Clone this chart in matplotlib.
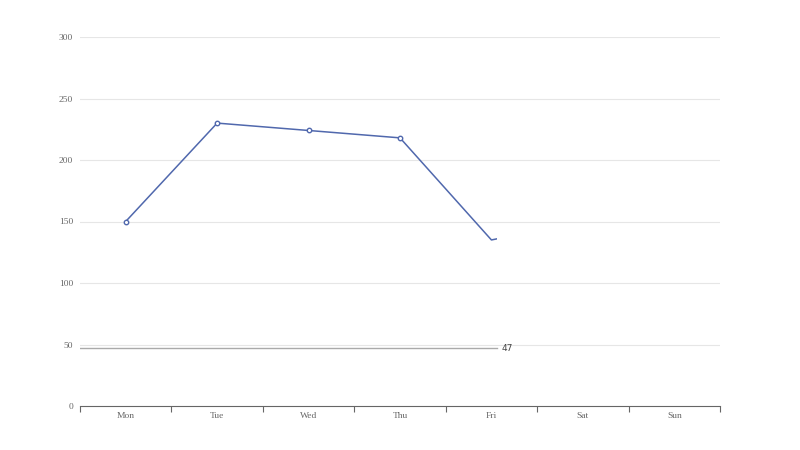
import matplotlib
matplotlib.use("Agg")
import matplotlib.pyplot as plt
import numpy as np

categories = ["Mon", "Tue", "Wed", "Thu", "Fri", "Sat", "Sun"]
values = [150, 230, 224, 218, 135, 150]   # Sat estimated from visible partial segment
visible_upto = 4.066                       # line drawn (animated) up to just past Fri
mark_value = 47
y_ticks = [0, 50, 100, 150, 200, 250, 300]

fig = plt.figure(figsize=(8, 4.5), dpi=100)
ax = fig.add_axes([0.1, 1 - 406 / 450, 0.8, (406 - 37) / 450])

xs = np.arange(len(values))
line_color = "#5068ad"
clip = plt.Rectangle((-0.5, -10), visible_upto + 0.5, 400, transform=ax.transData)
ln, = ax.plot(xs, values, color=line_color, lw=1.1, zorder=3)
ln.set_clip_path(clip)
ax.plot(xs[:4], values[:4], 'o', ms=3.2, mfc='white', mec=line_color, mew=1.0, zorder=4)

ax.plot([-0.5, visible_upto], [mark_value, mark_value], color="#aaaaaa", lw=1, zorder=2)
ax.text(visible_upto + 0.04, mark_value, str(mark_value), fontsize=6.5, color="#444444",
        va='center', ha='left', family='DejaVu Sans')

ax.set_xlim(-0.5, 6.5)
ax.set_ylim(0, 300)
ax.set_yticks(y_ticks)
ax.set_yticklabels([str(t) for t in y_ticks], fontsize=6.8, color="#666666", family="Liberation Serif")
ax.set_xticks(np.arange(len(categories)))
ax.set_xticklabels(categories, fontsize=6.8, color="#666666", family="Liberation Serif")
ax.set_xticks(np.arange(-0.5, 7, 1), minor=True)
ax.tick_params(axis='x', which='major', length=0, pad=4)
ax.tick_params(axis='x', which='minor', length=4, color="#666666", width=0.8)
ax.tick_params(axis='y', length=0, pad=5)
for t in y_ticks[1:]:
    ax.axhline(t, color="#e6e6e6", lw=0.8, zorder=1)
for s in ["top", "right", "left"]:
    ax.spines[s].set_visible(False)
ax.spines["bottom"].set_color("#666666")
ax.spines["bottom"].set_linewidth(0.8)

fig.savefig("out.png", dpi=100)
